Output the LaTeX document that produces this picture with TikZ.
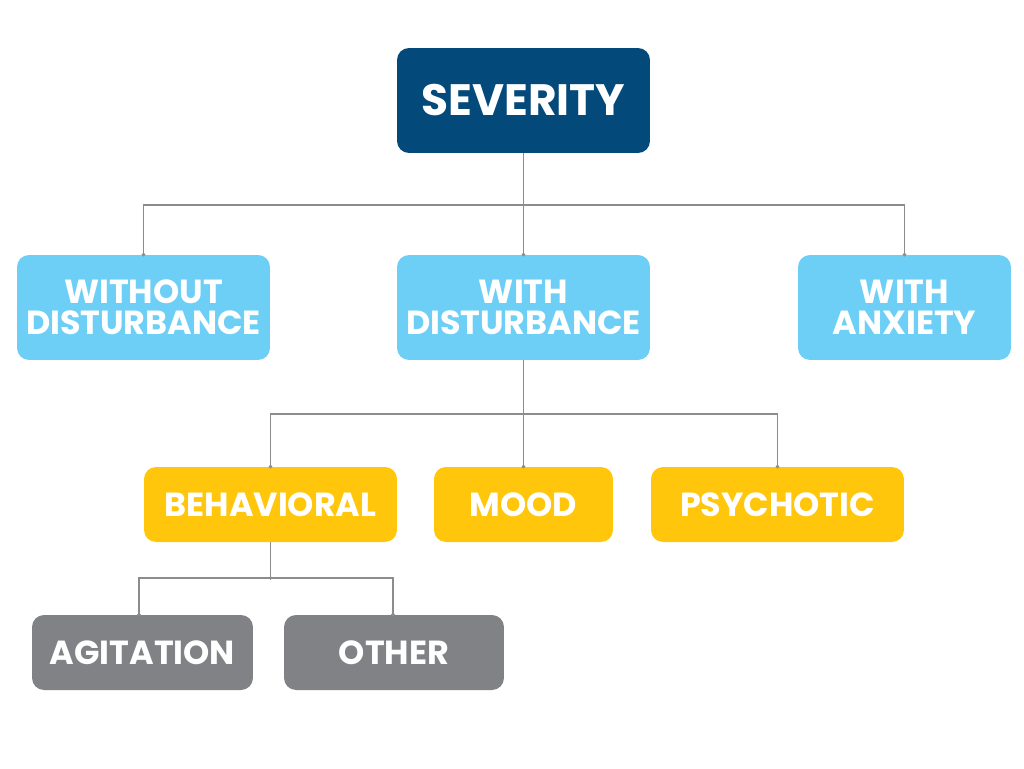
\documentclass[tikz,border=0pt]{standalone}
\usepackage{fontspec}
\setmainfont{Poppins}
\usetikzlibrary{positioning,calc}
\definecolor{sevblue}{HTML}{03497A}
\definecolor{subblue}{HTML}{6DCFF6}
\definecolor{kindyel}{HTML}{FFC60B}
\definecolor{leafgray}{HTML}{808285}
\definecolor{linegray}{HTML}{8C8C8C}
\tikzset{
  box/.style={rounded corners=2.4mm,text=white,font=\bfseries,align=center,inner sep=0pt},
  topbox/.style={box,fill=sevblue,minimum width=5.06cm,minimum height=2.1cm,font=\fontsize{25}{28}\bfseries\selectfont},
  midbox/.style={box,fill=subblue,minimum height=2.1cm,font=\fontsize{19}{17.6}\bfseries\selectfont},
  kindbox/.style={box,fill=kindyel,minimum height=1.5cm,font=\fontsize{19}{17.6}\bfseries\selectfont},
  leafbox/.style={box,fill=leafgray,minimum height=1.5cm,font=\fontsize{19}{17.6}\bfseries\selectfont},
  conn/.style={draw=linegray,line width=0.6pt},
  tick/.style={fill=linegray,circle,inner sep=0pt,minimum size=2.2pt}
}
\begin{document}
\begin{tikzpicture}[x=0.02cm,y=-0.02cm]
\useasboundingbox (0,0) rectangle (1024,768);
\node[topbox] (sev) at (523.5,100.5) {SEVERITY};
\node[midbox,minimum width=5.06cm] (wo) at (143.5,307.5) {WITHOUT\\DISTURBANCE};
\node[midbox,minimum width=5.06cm] (wd) at (523.5,307.5) {WITH\\DISTURBANCE};
\node[midbox,minimum width=4.26cm] (anx) at (904.5,307.5) {WITH\\ANXIETY};
\node[kindbox,minimum width=5.06cm] (beh) at (270.5,504.5) {BEHAVIORAL};
\node[kindbox,minimum width=3.58cm] (mood) at (523.5,504.5) {MOOD};
\node[kindbox,minimum width=5.06cm] (psy) at (777.5,504.5) {PSYCHOTIC};
\node[leafbox,minimum width=4.42cm] (agi) at (142.5,652.5) {AGITATION};
\node[leafbox,minimum width=4.40cm] (oth) at (394,652.5) {OTHER};
% branch points
\coordinate (j1) at (523.5,205);
\coordinate (j2) at (523.5,414);
\coordinate (j3) at (270.5,578);
\coordinate (ea) at ([xshift=-0.7mm]agi.north);
\coordinate (eo) at ([xshift=-0.2mm]oth.north);
\draw[conn] (sev.south) -- (j1) -| (wo.north);
\draw[conn] (j1) -| (anx.north);
\draw[conn] (j1) -- (wd.north);
\draw[conn] (wd.south) -- (j2) -| (beh.north);
\draw[conn] (j2) -| (psy.north);
\draw[conn] (j2) -- (mood.north);
\draw[conn] (beh.south) -- (j3) -| (ea);
\draw[conn] (j3) -| (eo);
\foreach \n in {wo.north,wd.north,anx.north,beh.north,mood.north,psy.north,j3,ea,eo}
  \node[tick] at (\n) {};
\end{tikzpicture}
\end{document}
